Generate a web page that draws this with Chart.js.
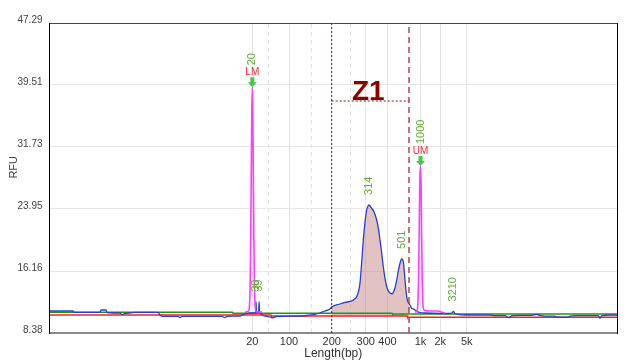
<!DOCTYPE html>
<html>
<head>
<meta charset="utf-8">
<script src="https://cdn.jsdelivr.net/npm/chart.js@4/dist/chart.umd.min.js"></script>
<style>
  html, body { margin: 0; padding: 0; background: #ffffff; }
  #wrap { width: 642px; height: 361px; }
</style>
</head>
<body>
<div id="wrap"><canvas id="c" width="642" height="361"></canvas></div>
<script>
// ---------------- DATA ----------------
// X axis: migration time (s). Ladder sizes are placed at their migration times.
const ladderLabels = ['20', '100', '200', '300', '400', '1k', '2k', '5k'];
const ladderTimes  = [40.56, 47.9, 56.44, 63.24, 67.6, 74.2, 78.16, 83.44];
const minorGridTimes = [43.7, 52.3, 60.1];
const timeMin = 0, timeMax = 113.5;

const yTickValues = [8.38, 16.16, 23.95, 31.73, 39.51, 47.29];
const yTickLabels = ['8.38', '16.16', '23.95', '31.73', '39.51', '47.29'];

// Sample trace (blue)
const sampleTime = [0, 4.7, 4.9, 10.1, 10.3, 11.3, 11.5, 12.7, 14.1, 14.5, 15.1, 16.1, 17.1, 18.7, 21.7, 22.1, 22.7, 25.7, 26.1, 26.5,
  34.5, 35.1, 35.5, 38.1, 38.7, 39.5, 40.1, 40.9, 41.2, 41.3, 41.4, 41.6, 41.82, 41.92, 42.02, 42.2, 42.5, 43.1, 44.1, 44.7, 45.3,
  50.1, 51.7, 52.9, 54.1, 55.1, 56.1, 56.44, 58.1, 59.1, 60.44, 60.9, 61.44, 61.76, 62.1, 62.4, 62.76, 63.1, 63.44, 63.7, 63.9,
  64.1, 64.44, 64.9, 65.44, 65.8, 66.1, 66.44, 66.76, 67.1, 67.44, 67.8, 68.1, 68.5, 68.76, 69.1, 69.44, 69.8, 70.1, 70.44, 70.76,
  70.94, 71.1, 71.44, 71.7, 71.9, 72.1, 72.44, 72.76, 73.1, 73.56, 74.1, 75.1, 78.1, 79.7, 80.5, 80.76, 81.1, 83.1, 88.1, 89.1,
  91.1, 91.9, 92.5, 94.1, 96.1, 97.44, 98.1, 99.1, 101.1, 101.3, 103.7, 104.1, 105.1, 109.7, 110.1, 110.5, 112.1, 113.5];
const sampleRFU = [11.14, 11.14, 10.98, 10.98, 11.27, 11.27, 10.95, 10.89, 10.89, 10.68, 10.83, 10.89, 10.98, 10.98, 10.98, 10.64, 10.47, 10.47, 10.32, 10.47,
  10.47, 10.32, 10.47, 10.51, 10.70, 10.83, 10.89, 10.89, 10.95, 12.30, 10.95, 10.95, 10.95, 12.30, 10.95, 10.89, 10.64, 10.51, 10.39, 10.30, 10.45,
  10.51, 10.60, 10.70, 10.89, 11.14, 11.39, 11.65, 12.02, 12.21, 12.40, 12.58, 12.94, 13.50, 14.66, 16.91, 20.05, 22.31, 23.82, 24.32, 24.45,
  24.32, 24.03, 23.61, 22.56, 21.43, 20.05, 18.42, 16.70, 15.28, 14.19, 13.65, 13.40, 13.28, 13.49, 14.03, 15.03, 16.29, 17.13, 17.67, 17.33,
  16.29, 15.03, 12.94, 12.27, 12.10, 11.89, 11.48, 11.40, 11.27, 11.06, 10.95, 10.89, 10.83, 10.83, 10.89, 11.08, 10.83, 10.64, 10.64, 10.55,
  10.55, 10.30, 10.55, 10.58, 10.58, 10.73, 10.58, 10.51, 10.51, 10.36, 10.36, 10.51, 10.55, 10.55, 10.22, 10.55, 10.64, 10.64];

// Marker trace (magenta): lower marker (LM) and upper marker (UM) peaks
const markerTime = [39.1, 39.86, 39.96, 40.06, 40.16, 40.26, 40.36, 40.46, 40.56, 40.66, 40.76, 40.86, 40.96, 41.06, 41.16, 41.26, 41.5, 42.5,
  50,
  73.1, 73.4, 73.56, 73.7, 73.84, 73.96, 74.06, 74.2, 74.32, 74.42, 74.54, 74.66, 74.8, 75.1, 76.1, 77.7, 78.3, 79.1];
const markerRFU = [11.0, 11.14, 11.52, 12.71, 15.53, 21.18, 29.09, 36.12, 39.22, 36.12, 29.09, 21.18, 15.53, 12.71, 11.52, 11.14, 11.02, 11.0,
  null,
  11.02, 11.02, 11.27, 12.52, 16.29, 22.56, 27.58, 29.34, 26.95, 21.31, 15.03, 12.15, 11.39, 11.20, 11.14, 11.14, 11.02, 10.89];

// Threshold (green) and baseline (red)
const thresholdTime = [0, 36.6, 36.7, 68.5, 68.6, 113.5];
const thresholdRFU  = [10.98, 10.98, 10.85, 10.85, 10.75, 10.75];
const baselineTime  = [0, 44.3, 44.4, 71.5, 71.6, 113.5];
const baselineRFU   = [10.64, 10.64, 10.51, 10.51, 10.37, 10.37];

// Smear region Z1
const z1Name = 'Z1';
const z1Start = 56.44, z1End = 71.9, z1TopRFU = 37.5, z1FloorRFU = 10.51;

// Peak annotations
const peakLabels = ['20', '30', '39', '314', '501', '1000', '3210'];
const peakTimes  = [40.56, 41.2, 41.8, 63.9, 70.44, 74.2, 80.76];
const peakRFU    = [39.22, 12.30, 12.30, 24.45, 17.67, 29.34, 11.08];
const peakTags   = ['LM', '', '', '', '', 'UM', ''];

// ---------------- BUILD ----------------
const toXY = (xs, ys) => xs.map((x, i) => ({ x: x, y: ys[i] }));
const sampleXY = toXY(sampleTime, sampleRFU);
const z1Area = sampleXY.filter(p => p.x >= z1Start && p.x <= z1End);
const yMin = yTickValues[0], yMax = yTickValues[yTickValues.length - 1];

const FONT = 'Arial, "Liberation Sans", Helvetica, sans-serif';
const GREEN_TXT = 'rgb(96,176,56)';

const annotationPlugin = {
  id: 'peakAnnotations',
  afterDatasetsDraw(chart) {
    const ctx = chart.ctx;
    const xs = chart.scales.x, ys = chart.scales.y;
    // Z1 label
    ctx.save();
    ctx.font = 'bold 28px ' + FONT;
    ctx.fillStyle = 'rgb(140,0,0)';
    ctx.textAlign = 'center';
    ctx.textBaseline = 'alphabetic';
    ctx.fillText(z1Name, xs.getPixelForValue((z1Start + z1End) / 2) - 2, ys.getPixelForValue(z1TopRFU) - 1);
    ctx.restore();

    peakLabels.forEach((lab, i) => {
      const px = xs.getPixelForValue(peakTimes[i]);
      const py = ys.getPixelForValue(peakRFU[i]);
      let labelBottom = py - 10;
      ctx.save();
      if (peakTags[i]) {
        // green down arrow
        ctx.fillStyle = 'rgb(70,200,70)';
        ctx.beginPath();
        ctx.rect(px - 2, py - 10, 4, 6);
        ctx.fill();
        ctx.beginPath();
        ctx.moveTo(px - 4.5, py - 5);
        ctx.lineTo(px + 4.5, py - 5);
        ctx.lineTo(px, py);
        ctx.closePath();
        ctx.fill();
        ctx.font = '10px ' + FONT;
        ctx.fillStyle = 'rgb(255,40,40)';
        ctx.textAlign = 'center';
        ctx.textBaseline = 'middle';
        ctx.fillText(peakTags[i], px, py - 15);
        labelBottom = py - 22;
      }
      ctx.translate(px, labelBottom);
      ctx.rotate(-Math.PI / 2);
      ctx.font = '11px ' + FONT;
      ctx.fillStyle = GREEN_TXT;
      ctx.textAlign = 'left';
      ctx.textBaseline = 'middle';
      ctx.fillText(lab, 0, 0);
      ctx.restore();
    });
  }
};

new Chart(document.getElementById('c'), {
  type: 'line',
  data: {
    datasets: [
      { label: 'Markers', data: toXY(markerTime, markerRFU), borderColor: 'rgb(255,60,255)', borderWidth: 1.6,
        cubicInterpolationMode: 'monotone', pointRadius: 0, fill: false, order: 0 },
      { label: 'Z1 end', data: [{ x: z1End, y: yMin }, { x: z1End, y: yMax }], borderColor: 'rgb(180,70,70)',
        borderWidth: 1.5, borderDash: [6, 4], pointRadius: 0, fill: false, order: 1 },
      { label: 'Z1 start', data: [{ x: z1Start, y: yMin }, { x: z1Start, y: yMax }], borderColor: 'rgb(140,10,10)',
        borderWidth: 1, borderDash: [2, 2], pointRadius: 0, fill: false, order: 1 },
      { label: 'Z1 top', data: [{ x: z1Start, y: z1TopRFU }, { x: z1End, y: z1TopRFU }], borderColor: 'rgb(140,10,10)',
        borderWidth: 1, borderDash: [2, 2], pointRadius: 0, fill: false, order: 1 },
      { label: 'Sample', data: sampleXY, borderColor: 'rgb(35,65,210)', borderWidth: 1.3,
        cubicInterpolationMode: 'monotone', pointRadius: 0, fill: false, order: 2 },
      { label: 'Threshold', data: toXY(thresholdTime, thresholdRFU), borderColor: 'rgb(30,150,30)', borderWidth: 1.5,
        tension: 0, pointRadius: 0, fill: false, order: 3 },
      { label: 'Baseline', data: toXY(baselineTime, baselineRFU), borderColor: 'rgb(255,30,30)', borderWidth: 1.5,
        tension: 0, pointRadius: 0, fill: false, order: 4 },
      { label: 'Z1 area', data: z1Area, borderWidth: 0, borderColor: 'rgba(0,0,0,0)', backgroundColor: 'rgba(190,120,120,0.45)',
        cubicInterpolationMode: 'monotone', pointRadius: 0, fill: { value: z1FloorRFU }, order: 5 }
    ]
  },
  options: {
    responsive: false,
    animation: false,
    layout: { padding: { left: 4, right: 25, top: 23, bottom: 1 } },
    plugins: { legend: { display: false }, tooltip: { enabled: false } },
    elements: { point: { radius: 0 } },
    scales: {
      x: {
        type: 'linear', position: 'bottom', min: timeMin, max: timeMax,
        afterBuildTicks: (s) => { s.ticks = ladderTimes.map(v => ({ value: v })); },
        afterFit: (s) => { s.height = 27; },
        ticks: { autoSkip: false, maxRotation: 0, padding: 3, color: '#333',
          font: { family: FONT, size: 11, lineHeight: 1 },
          callback: (v, i) => ladderLabels[i] },
        grid: { color: '#e4e4e4', lineWidth: 1, drawTicks: false },
        border: { color: '#8a8a8a', width: 2 },
        title: { display: true, text: 'Length(bp)', color: '#333', padding: { top: 0, bottom: 0 },
          font: { family: FONT, size: 12, lineHeight: 1 } }
      },
      xMinor: {
        type: 'linear', position: 'top', min: timeMin, max: timeMax,
        afterBuildTicks: (s) => { s.ticks = minorGridTimes.map(v => ({ value: v })); },
        afterFit: (s) => { s.height = 0; },
        ticks: { display: false },
        grid: { color: '#e4e4e4', lineWidth: 1, drawTicks: false },
        border: { color: '#444', width: 1, dash: [4, 4] }
      },
      y: {
        type: 'linear', position: 'left', min: yMin, max: yMax,
        afterBuildTicks: (s) => { s.ticks = yTickValues.map(v => ({ value: v })); },
        afterFit: (s) => { s.width = 45.5; },
        ticks: { padding: 7, labelOffset: -3, color: '#444',
          font: { family: FONT, size: 10 },
          callback: (v, i) => yTickLabels[i] },
        grid: { color: '#e8e8e8', lineWidth: 1, drawTicks: false },
        border: { color: '#000', width: 1 },
        title: { display: true, text: '       RFU', color: '#444', padding: { top: 3, bottom: 0 },
          font: { family: FONT, size: 11 } }
      },
      yRight: {
        type: 'linear', position: 'right', min: yMin, max: yMax,
        afterFit: (s) => { s.width = 0; },
        ticks: { display: false },
        grid: { display: false, drawTicks: false },
        border: { color: '#000', width: 1 }
      }
    }
  },
  plugins: [annotationPlugin]
});
</script>
</body>
</html>
